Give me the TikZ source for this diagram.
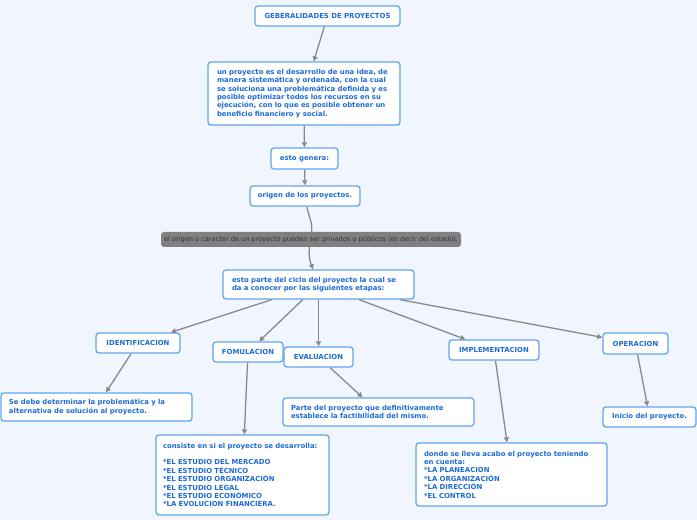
\documentclass[tikz,border=0pt]{standalone}
\usepackage{fontspec}
\setmainfont{DejaVu Sans}
\usetikzlibrary{arrows.meta}
\definecolor{bgc}{RGB}{241,245,253}
\definecolor{tblue}{RGB}{28,108,214}
\definecolor{bcol}{RGB}{98,164,240}
\definecolor{lcol}{RGB}{138,138,138}
\definecolor{gfill}{RGB}{128,128,128}
\definecolor{gtext}{RGB}{50,50,50}
\tikzset{
  box/.style={draw=bcol, line width=1.3bp, fill=white, rounded corners=3bp, text=tblue,
    font=\fontsize{6.9bp}{8.4bp}\selectfont\bfseries, inner sep=0pt, align=center},
  lbox/.style={box, align=left, inner xsep=#1, execute at begin node={\hyphenpenalty=10000}},
  lbox/.default=8bp,
  glabel/.style={fill=gfill, rounded corners=3bp, text=gtext,
    font=\fontsize{6.6bp}{8.4bp}\selectfont, inner sep=0pt, align=center},
  conn/.style={draw=lcol, line width=1.3bp, -{Triangle[length=5bp,width=5bp]}},
  plain/.style={draw=lcol, line width=1.3bp}
}
\begin{document}
\begin{tikzpicture}[x=1bp,y=1bp]
\useasboundingbox (0,0) rectangle (697,-520);
\fill[bgc] (0,0) rectangle (697,-520);

\node[box, minimum width=145bp, minimum height=20bp] (geb) at (327.5,-16) {GEBERALIDADES DE PROYECTOS};
\node[lbox=9bp, text width=174bp, minimum height=63bp] (big) at (304,-93.5) {un proyecto es el desarrollo de una idea, de\\ manera sistemática y ordenada, con la cual\\ se soluciona una problemática definida y es\\ posible optimizar todos los recursos en su\\ ejecución, con lo que es posible obtener un\\ beneficio financiero y social.};
\node[box, minimum width=67bp, minimum height=21bp] (gen) at (304.5,-158.5) {esto genera:};
\node[box, minimum width=110bp, minimum height=20bp] (orig) at (305,-196) {origen de los proyectos.};
\node[glabel, minimum width=300bp, minimum height=15bp] (gray) at (311,-239.5) {el origen o caracter de un proyecto pueden ser privados o públicos (es decir del estado).};
\node[lbox=9bp, text width=173bp, minimum height=29bp] (parte) at (318.5,-284.5) {esto parte del ciclo del proyecto la cual se\\ da a conocer por las siguientes etapas:};

\node[box, minimum width=84bp, minimum height=20bp] (ident) at (138,-343) {IDENTIFICACION};
\node[box, minimum width=70bp, minimum height=20bp] (fomu) at (248,-352) {FOMULACION};
\node[box, minimum width=69bp, minimum height=20bp] (eval) at (318.5,-357) {EVALUACION};
\node[box, minimum width=90bp, minimum height=20bp] (impl) at (494,-350) {IMPLEMENTACION};
\node[box, minimum width=65bp, minimum height=21bp] (oper) at (635.5,-343.5) {OPERACION};

\node[lbox=8bp, text width=175bp, minimum height=28bp] (sedebe) at (96.5,-407) {Se debe determinar la problemática y la\\ alternativa de solución al proyecto.};
\node[lbox=8bp, text width=175bp, minimum height=28bp] (partedel) at (378.5,-412) {Parte del proyecto que definitivamente\\ establece la factibilidad del mismo.};
\node[box, minimum width=93bp, minimum height=20bp] (inicio) at (649.5,-417) {Inicio del proyecto.};
\node[lbox=7bp, text width=159bp, minimum height=80bp] (consiste) at (242.5,-475) {consiste en si el proyecto se desarrolla:\\[8.4bp] {*}EL ESTUDIO DEL MERCADO\\ {*}EL ESTUDIO TÉCNICO\\ {*}EL ESTUDIO ORGANIZACIÓN\\ {*}EL ESTUDIO LEGAL\\ {*}EL ESTUDIO ECONÓMICO\\ {*}LA EVOLUCION FINANCIERA.};
\node[lbox=8bp, text width=175bp, minimum height=63bp] (donde) at (511.5,-474.5) {donde se lleva acabo el proyecto teniendo\\ en cuenta:\\ {*}LA PLANEACION\\ {*}LA ORGANIZACIÓN\\ {*}LA DIRECCIÓN\\ {*}EL CONTROL};

\draw[conn] (geb) -- (big);
\draw[conn] (big) -- (gen);
\draw[conn] (gen) -- (orig);
\draw[plain] (orig) to[out=-80,in=85] (gray);
\draw[conn] (gray) to[out=-100,in=110] (parte);
\draw[conn] (parte) -- (ident);
\draw[conn] (parte) -- (fomu);
\draw[conn] (parte) -- (eval);
\draw[conn] (parte) -- (impl);
\draw[conn] (parte) -- (oper);
\draw[conn] (ident) -- (sedebe);
\draw[conn] (fomu) -- (consiste);
\draw[conn] (eval) -- (partedel);
\draw[conn] (impl) -- (donde);
\draw[conn] (oper) -- (inicio);
\end{tikzpicture}
\end{document}
